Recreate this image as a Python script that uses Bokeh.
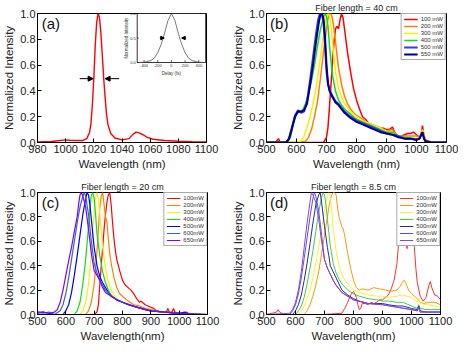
import math
from bokeh.plotting import figure
from bokeh.layouts import row, column
from bokeh.models import (Range1d, FixedTicker, Legend, LegendItem, Label, Arrow,
                          NormalHead, PrintfTickFormatter)
from bokeh.embed import file_html
from bokeh.resources import INLINE
from bokeh.core.properties import value

FONT = "Liberation Sans"

# ---------------- data ----------------
y_ticks = [0.0, 0.2, 0.4, 0.6, 0.8, 1.0]
xticks_a = [980, 1000, 1020, 1040, 1060, 1080, 1100]
xticks_bcd = [500, 600, 700, 800, 900, 1000, 1100]

# (a) single spectrum
a_wl = [980, 990, 1000, 1003, 1008, 1012, 1015, 1017, 1018, 1019, 1020, 1021, 1022, 1023, 1024,
        1025, 1026, 1027, 1028, 1029, 1030, 1032, 1035, 1040, 1045, 1048, 1050, 1052, 1055,
        1058, 1062, 1070, 1080, 1090, 1100]
a_int = [0.005, 0.008, 0.02, 0.018, 0.015, 0.015, 0.03, 0.08, 0.15, 0.3, 0.5, 0.75, 0.93, 1.0,
         0.97, 0.85, 0.68, 0.5, 0.35, 0.22, 0.14, 0.07, 0.035, 0.02, 0.03, 0.065, 0.08, 0.075,
         0.06, 0.04, 0.025, 0.015, 0.01, 0.006, 0.004]
a_fwhm = [1019.5, 1028.0]          # arrow tips
a_fwhm_tails = [1010.0, 1038.0]    # arrow tails
a_half = 0.495

# (a) inset autocorrelation
inset_delay = [-500, -400, -300, -250, -200, -150, -100, -50, 0, 50, 100, 150, 200, 250, 300, 400, 500]
inset_int = [0.0, 0.005, 0.04, 0.09, 0.2, 0.37, 0.6, 0.86, 1.0, 0.86, 0.6, 0.37, 0.2, 0.09, 0.04, 0.005, 0.0]
inset_xticks = [-400, -200, 0, 200, 400]
inset_yticks = [0.0, 0.5, 1.0]
inset_arrow_tips = [-105, 150]
inset_arrow_tails = [-170, 215]

# (b) fiber length 40 cm
b_labels = ["100 mW", "200 mW", "300 mW", "400 mW", "500 mW", "550 mW"]
b_colors = ["#ff0000", "#ff8000", "#ffee00", "#11dd11", "#3535ff", "#000088"]
b_widths = [1.5, 1.5, 1.5, 1.5, 2.0, 2.0]
b_wl_100 = [500, 530, 540, 545, 560, 600, 650, 690, 700, 705, 710, 715, 720, 725, 730, 735, 740, 745,
            750, 755, 760, 770, 780, 790, 800, 810, 820, 830, 840, 850, 860, 870, 880, 890, 900, 910,
            920, 925, 930, 940, 950, 960, 970, 980, 990, 1000, 1005, 1010, 1015, 1020, 1025, 1030,
            1040, 1060, 1100]
b_100 = [0.0, 0.0, 0.03, 0.0, 0.0, 0.0, 0.0, 0.0, 0.04, 0.12, 0.28, 0.45, 0.62, 0.78, 0.88, 0.9,
         0.88, 0.95, 1.0, 0.97, 0.88, 0.7, 0.55, 0.42, 0.33, 0.26, 0.2, 0.18, 0.15, 0.14, 0.13, 0.12,
         0.11, 0.11, 0.1, 0.1, 0.12, 0.09, 0.07, 0.05, 0.05, 0.06, 0.07, 0.07, 0.08, 0.06, 0.05, 0.04,
         0.06, 0.13, 0.05, 0.02, 0.01, 0.0, 0.0]
b_wl_200 = [500, 600, 630, 640, 650, 660, 670, 680, 690, 700, 705, 710, 715, 720, 725, 730, 740, 750,
            760, 770, 780, 790, 800, 820, 840, 860, 880, 900, 920, 930, 940, 960, 980, 1000, 1010,
            1020, 1030, 1050, 1100]
b_200 = [0.0, 0.0, 0.01, 0.04, 0.1, 0.2, 0.32, 0.5, 0.7, 0.88, 0.96, 1.0, 1.0, 0.96, 0.88, 0.78,
         0.58, 0.45, 0.36, 0.3, 0.26, 0.23, 0.21, 0.18, 0.15, 0.13, 0.11, 0.09, 0.1, 0.07, 0.05, 0.05,
         0.05, 0.05, 0.04, 0.1, 0.02, 0.0, 0.0]
b_wl_300 = [500, 600, 615, 625, 635, 645, 655, 665, 675, 685, 695, 700, 705, 710, 715, 720, 730, 740,
            750, 760, 780, 800, 820, 850, 880, 900, 920, 940, 960, 1000, 1010, 1020, 1030, 1050, 1100]
b_300 = [0.0, 0.0, 0.01, 0.05, 0.12, 0.2, 0.3, 0.42, 0.58, 0.75, 0.92, 0.98, 1.0, 0.98, 0.9, 0.78,
         0.55, 0.42, 0.35, 0.3, 0.24, 0.2, 0.17, 0.14, 0.11, 0.09, 0.08, 0.05, 0.04, 0.03, 0.03, 0.1,
         0.01, 0.0, 0.0]
b_wl_400 = [500, 570, 580, 590, 600, 610, 620, 630, 640, 650, 660, 670, 680, 690, 695, 700, 705, 710,
            720, 730, 740, 750, 760, 780, 800, 820, 850, 880, 900, 920, 940, 960, 1000, 1010, 1020,
            1030, 1050, 1100]
b_400 = [0.0, 0.0, 0.04, 0.15, 0.22, 0.24, 0.25, 0.3, 0.38, 0.48, 0.6, 0.75, 0.88, 0.97, 1.0, 0.98,
         0.9, 0.75, 0.52, 0.4, 0.33, 0.29, 0.26, 0.22, 0.18, 0.16, 0.13, 0.1, 0.08, 0.08, 0.05, 0.04,
         0.03, 0.03, 0.08, 0.01, 0.0, 0.0]
b_wl_500 = [500, 565, 575, 585, 595, 605, 615, 625, 635, 645, 655, 665, 672, 678, 685, 690, 695, 700,
            705, 710, 720, 730, 740, 760, 780, 800, 820, 850, 880, 900, 920, 940, 960, 980, 1000,
            1010, 1020, 1025, 1030, 1050, 1100]
b_500 = [0.0, 0.0, 0.03, 0.12, 0.21, 0.25, 0.23, 0.24, 0.32, 0.48, 0.66, 0.84, 0.95, 1.0, 0.99,
         0.93, 0.75, 0.55, 0.45, 0.41, 0.36, 0.32, 0.3, 0.24, 0.2, 0.17, 0.15, 0.12, 0.09, 0.07, 0.06,
         0.05, 0.03, 0.03, 0.02, 0.03, 0.08, 0.03, 0.01, 0.0, 0.0]
b_wl_550 = [500, 565, 575, 585, 595, 605, 615, 625, 635, 645, 655, 665, 675, 680, 685, 690, 695, 700,
            705, 710, 720, 730, 740, 760, 780, 800, 820, 850, 880, 900, 920, 940, 960, 980, 1000,
            1010, 1020, 1025, 1030, 1050, 1100]
b_550 = [0.0, 0.0, 0.03, 0.11, 0.2, 0.24, 0.24, 0.25, 0.3, 0.44, 0.6, 0.78, 0.94, 0.99, 1.0, 0.96,
         0.82, 0.6, 0.46, 0.4, 0.35, 0.31, 0.29, 0.23, 0.19, 0.16, 0.14, 0.11, 0.08, 0.07, 0.06, 0.04,
         0.03, 0.03, 0.02, 0.03, 0.08, 0.03, 0.01, 0.0, 0.0]

# (c) fiber length 20 cm
c_labels = ["100mW", "200mW", "300mW", "400mW", "500mW", "600mW", "650mW"]
c_colors = ["#ff0000", "#ff8000", "#ffee00", "#11dd11", "#0000ff", "#3366cc", "#8000ff"]
c_wl_100 = [500, 700, 710, 715, 720, 725, 730, 735, 740, 745, 750, 755, 760, 765, 770, 775, 780, 790,
            800, 810, 820, 830, 840, 850, 860, 865, 870, 880, 890, 900, 910, 920, 940, 955, 960, 965,
            975, 980, 985, 1000, 1020, 1025, 1040, 1100]
c_100 = [0.0, 0.0, 0.02, 0.08, 0.25, 0.4, 0.55, 0.7, 0.82, 0.92, 0.98, 1.0, 0.9, 0.75, 0.62, 0.52,
         0.45, 0.36, 0.28, 0.24, 0.22, 0.2, 0.17, 0.13, 0.1, 0.11, 0.1, 0.08, 0.07, 0.06, 0.05, 0.03,
         0.02, 0.02, 0.05, 0.02, 0.02, 0.05, 0.02, 0.01, 0.01, 0.02, 0.0, 0.0]
c_wl_200 = [500, 670, 680, 690, 700, 705, 710, 715, 720, 725, 730, 735, 740, 745, 750, 755, 760, 770,
            780, 790, 800, 820, 840, 860, 880, 900, 920, 950, 1000, 1100]
c_200 = [0.0, 0.0, 0.03, 0.1, 0.25, 0.38, 0.52, 0.7, 0.88, 0.97, 1.0, 0.9, 0.8, 0.76, 0.62, 0.5,
         0.42, 0.3, 0.22, 0.17, 0.15, 0.11, 0.08, 0.07, 0.05, 0.04, 0.03, 0.02, 0.01, 0.0]
c_wl_300 = [500, 650, 660, 670, 680, 690, 695, 700, 705, 710, 715, 720, 725, 730, 740, 750, 760, 770,
            780, 800, 820, 850, 880, 900, 950, 1000, 1100]
c_300 = [0.0, 0.0, 0.03, 0.1, 0.25, 0.5, 0.68, 0.85, 0.96, 1.0, 0.95, 0.82, 0.68, 0.55, 0.38, 0.27,
         0.2, 0.16, 0.13, 0.1, 0.08, 0.06, 0.04, 0.03, 0.02, 0.01, 0.0]
c_wl_400 = [500, 630, 640, 650, 660, 670, 680, 685, 690, 695, 700, 705, 710, 720, 730, 740, 750, 760,
            780, 800, 820, 850, 880, 900, 950, 1000, 1100]
c_400 = [0.0, 0.0, 0.03, 0.1, 0.25, 0.45, 0.72, 0.88, 0.98, 1.0, 0.95, 0.82, 0.66, 0.48, 0.35, 0.26,
         0.2, 0.16, 0.12, 0.1, 0.08, 0.06, 0.04, 0.03, 0.02, 0.01, 0.0]
c_wl_500 = [500, 520, 540, 560, 590, 600, 610, 620, 630, 640, 650, 660, 670, 675, 680, 685, 690, 700,
            710, 720, 730, 740, 750, 760, 780, 800, 820, 850, 880, 900, 950, 1000, 1020, 1030, 1100]
c_500 = [0.01, 0.02, 0.01, 0.0, 0.0, 0.03, 0.08, 0.18, 0.32, 0.48, 0.65, 0.82, 0.95, 1.0, 0.98, 0.9,
         0.78, 0.55, 0.4, 0.31, 0.26, 0.22, 0.18, 0.15, 0.12, 0.1, 0.08, 0.06, 0.04, 0.03, 0.02, 0.01,
         0.02, 0.0, 0.0]
c_wl_600 = [500, 520, 540, 560, 580, 590, 600, 610, 620, 630, 640, 650, 660, 665, 670, 680, 690, 700,
            710, 720, 730, 740, 760, 780, 800, 850, 900, 950, 1000, 1100]
c_600 = [0.02, 0.01, 0.02, 0.0, 0.03, 0.08, 0.17, 0.3, 0.45, 0.6, 0.75, 0.88, 0.97, 1.0, 0.97, 0.82,
         0.6, 0.42, 0.34, 0.28, 0.24, 0.2, 0.15, 0.12, 0.1, 0.06, 0.03, 0.02, 0.01, 0.0]
c_wl_650 = [500, 520, 540, 560, 570, 580, 590, 600, 610, 620, 630, 640, 645, 650, 655, 660, 670, 680,
            690, 700, 710, 720, 730, 740, 760, 780, 800, 850, 900, 950, 1000, 1100]
c_650 = [0.02, 0.02, 0.01, 0.02, 0.04, 0.1, 0.2, 0.32, 0.44, 0.55, 0.68, 0.8, 0.9, 0.98, 1.0, 0.97,
         0.88, 0.7, 0.5, 0.36, 0.32, 0.28, 0.22, 0.18, 0.15, 0.12, 0.1, 0.06, 0.03, 0.02, 0.01, 0.0]

# (d) fiber length 8.5 cm
d_labels = ["100mW", "200mW", "300mW", "400mW", "500mW", "600mW", "650mW"]
d_colors = ["#ff3030", "#ff9900", "#ffee33", "#44cc44", "#2a2a9a", "#5050ff", "#9040e0"]
d_wl_100 = [500, 520, 535, 540, 545, 560, 600, 700, 760, 770, 780, 790, 800, 810, 815, 820, 825, 830,
            840, 850, 860, 870, 880, 890, 900, 910, 920, 930, 940, 950, 960, 965, 970, 980, 985, 990,
            995, 1000, 1005, 1010, 1015, 1020, 1030, 1040, 1050, 1060, 1065, 1070, 1080, 1090, 1100]
d_100 = [0.0, 0.01, 0.02, 0.04, 0.02, 0.0, 0.0, 0.0, 0.01, 0.05, 0.1, 0.16, 0.19, 0.14, 0.08, 0.04,
         0.05, 0.09, 0.09, 0.08, 0.1, 0.09, 0.1, 0.12, 0.12, 0.14, 0.16, 0.21, 0.28, 0.42, 0.72, 0.75,
         0.72, 0.6, 0.54, 0.7, 1.0, 0.95, 0.8, 0.55, 0.38, 0.26, 0.15, 0.11, 0.14, 0.24, 0.27, 0.22,
         0.16, 0.15, 0.12]
d_wl_200 = [500, 630, 640, 650, 660, 670, 680, 690, 700, 710, 715, 720, 725, 730, 735, 740, 745, 750,
            760, 765, 770, 780, 790, 800, 810, 820, 830, 850, 870, 890, 910, 930, 950, 960, 970, 975,
            980, 990, 1000, 1010, 1020, 1030, 1040, 1060, 1080, 1100]
d_200 = [0.0, 0.0, 0.03, 0.08, 0.15, 0.24, 0.35, 0.5, 0.65, 0.8, 0.88, 0.94, 0.98, 1.0, 1.0, 0.98,
         0.88, 0.8, 0.72, 0.7, 0.64, 0.5, 0.38, 0.28, 0.22, 0.2, 0.21, 0.2, 0.22, 0.21, 0.2, 0.19, 0.2,
         0.23, 0.27, 0.28, 0.26, 0.2, 0.17, 0.15, 0.13, 0.1, 0.09, 0.1, 0.1, 0.08]
d_wl_300 = [500, 610, 620, 630, 640, 650, 660, 670, 680, 690, 700, 705, 710, 715, 720, 725, 730, 740,
            750, 760, 770, 780, 800, 820, 850, 880, 900, 920, 950, 970, 1000, 1020, 1025, 1030, 1050,
            1080, 1100]
d_300 = [0.0, 0.0, 0.03, 0.07, 0.13, 0.2, 0.3, 0.42, 0.55, 0.7, 0.85, 0.93, 0.98, 1.0, 0.97, 0.85,
         0.7, 0.52, 0.4, 0.33, 0.28, 0.25, 0.2, 0.18, 0.16, 0.15, 0.15, 0.14, 0.15, 0.16, 0.14, 0.1,
         0.13, 0.09, 0.08, 0.07, 0.06]
d_wl_400 = [500, 600, 610, 620, 630, 640, 650, 660, 670, 680, 690, 695, 700, 705, 710, 720, 730, 740,
            750, 760, 780, 800, 820, 850, 880, 900, 920, 950, 970, 1000, 1020, 1025, 1030, 1050, 1100]
d_400 = [0.0, 0.0, 0.03, 0.07, 0.14, 0.25, 0.38, 0.52, 0.68, 0.84, 0.96, 1.0, 0.98, 0.9, 0.78, 0.56,
         0.42, 0.34, 0.29, 0.25, 0.2, 0.17, 0.15, 0.13, 0.12, 0.11, 0.11, 0.1, 0.1, 0.07, 0.05, 0.08,
         0.05, 0.04, 0.04]
d_wl_500 = [500, 590, 600, 610, 620, 630, 640, 650, 660, 670, 680, 685, 690, 700, 710, 715, 720, 730,
            740, 760, 780, 800, 820, 850, 880, 900, 920, 950, 970, 1000, 1020, 1025, 1030, 1050, 1100]
d_500 = [0.0, 0.0, 0.03, 0.08, 0.16, 0.28, 0.42, 0.58, 0.75, 0.9, 0.98, 1.0, 0.92, 0.72, 0.55, 0.48,
         0.4, 0.35, 0.3, 0.2, 0.16, 0.13, 0.11, 0.09, 0.09, 0.09, 0.08, 0.07, 0.07, 0.05, 0.04, 0.07,
         0.03, 0.02, 0.02]
d_wl_600 = [500, 580, 590, 600, 610, 620, 630, 640, 650, 660, 665, 670, 680, 690, 700, 710, 720, 730,
            740, 760, 780, 800, 850, 900, 950, 1000, 1020, 1025, 1030, 1100]
d_600 = [0.0, 0.0, 0.03, 0.08, 0.17, 0.3, 0.46, 0.63, 0.8, 0.95, 1.0, 0.97, 0.85, 0.65, 0.45, 0.38,
         0.33, 0.28, 0.24, 0.18, 0.15, 0.12, 0.09, 0.08, 0.06, 0.04, 0.03, 0.06, 0.02, 0.02]
d_wl_650 = [500, 580, 590, 600, 610, 620, 630, 640, 650, 655, 660, 670, 680, 690, 700, 710, 720, 730,
            740, 760, 780, 800, 850, 900, 950, 1000, 1020, 1025, 1030, 1100]
d_650 = [0.0, 0.01, 0.04, 0.1, 0.2, 0.35, 0.55, 0.75, 0.92, 1.0, 0.98, 0.92, 0.78, 0.6, 0.45, 0.38,
         0.33, 0.28, 0.24, 0.18, 0.15, 0.12, 0.09, 0.08, 0.06, 0.04, 0.03, 0.06, 0.02, 0.02]


# ---------------- helpers ----------------
def make_fig(width, height, xr, xticks, bl, br, bt, bb, xlabel, ylabel, title=""):
    p = figure(width=width, height=height, x_range=Range1d(*xr), y_range=Range1d(0, 1.0),
               output_backend="svg", toolbar_location=None,
               min_border_left=bl, min_border_right=br, min_border_top=bt, min_border_bottom=bb)
    p.xgrid.visible = False
    p.ygrid.visible = False
    p.outline_line_color = "black"
    p.outline_line_alpha = 1.0
    p.outline_line_width = 1
    p.background_fill_color = "white"
    p.border_fill_color = "white"
    p.xaxis.ticker = FixedTicker(ticks=xticks)
    p.yaxis.ticker = FixedTicker(ticks=y_ticks)
    p.yaxis.formatter = PrintfTickFormatter(format="%.1f")
    for ax in (p.xaxis[0], p.yaxis[0]):
        ax.axis_line_color = "black"
        ax.major_tick_in = 4
        ax.major_tick_out = 0
        ax.minor_tick_line_color = None
        ax.major_label_text_font = FONT
        ax.major_label_text_font_size = "11px"
        ax.major_label_text_color = "#222222"
        ax.major_label_standoff = 2
        ax.axis_label_text_font = FONT
        ax.axis_label_text_font_size = "11.5px"
        ax.axis_label_text_font_style = "normal"
        ax.axis_label_text_color = "#222222"
        ax.axis_label_standoff = 2
    p.xaxis.axis_label = xlabel
    p.yaxis.axis_label = ylabel
    if title:
        p.title.text = title
        p.title.align = "center"
        p.title.text_font = FONT
        p.title.text_font_size = "9px"
        p.title.text_font_style = "normal"
        p.title.text_color = "#222222"
        p.title.standoff = 1
        p.title.offset = 0
    return p


def add_panel_label(p, text, x):
    p.add_layout(Label(x=x, y=0.985, text=text, text_align="left", text_baseline="top",
                       text_font=FONT, text_font_size="15px", text_color="#111111"))


def add_curves(p, series, labels, colors, widths, legend_loc):
    items = []
    for (wl, vals), lab, col, w in zip(series, labels, colors, widths):
        r = p.line(wl, vals, line_color=col, line_width=w)
        items.append(LegendItem(label=lab, renderers=[r]))
    leg = Legend(items=items, location=legend_loc, margin=0, padding=2, spacing=1,
                 glyph_width=14, glyph_height=6, label_height=6, label_standoff=3,
                 label_text_font=FONT, label_text_font_size="6px", label_text_color="#333333",
                 border_line_color="#555555", border_line_width=1, background_fill_alpha=1.0)
    p.add_layout(leg)


# layout sizes
W = 229
H1, H2 = 172, 172
BT1, BB1 = 12, 30
BT2, BB2 = 20, 30

# ---------------- (a) ----------------
pa = make_fig(W, H1, (980, 1100), xticks_a, 35, 23, BT1, BB1, "Wavelength (nm)", "Normalized Intensity")
pa.line(a_wl, a_int, line_color="#ff0000", line_width=1.4)
for tail, tip in zip(a_fwhm_tails, a_fwhm):
    pa.add_layout(Arrow(x_start=tail, y_start=a_half, x_end=tip, y_end=a_half, line_width=1.0,
                        line_color="black",
                        end=NormalHead(size=5, fill_color="black", line_color="black")))
add_panel_label(pa, "(a)", 983)

# inset via extra ranges mapped onto the upper-right part of the frame
fx0, fx1 = 0.59, 0.995
fy0, fy1 = 0.62, 1.0
ix0, ix1 = -500.0, 500.0
iy0, iy1 = 0.0, 1.0
sx = (ix1 - ix0) / (fx1 - fx0)
sy = (iy1 - iy0) / (fy1 - fy0)
pa.extra_x_ranges = {"ix": Range1d(ix0 - fx0 * sx, ix0 - fx0 * sx + sx)}
pa.extra_y_ranges = {"iy": Range1d(iy0 - fy0 * sy, iy0 - fy0 * sy + sy)}
pa.quad(left=[ix0], right=[ix1], bottom=[iy0], top=[iy1], fill_color="white",
        line_color="black", line_width=0.8, x_range_name="ix", y_range_name="iy")
pa.line(inset_delay, inset_int, line_color="#555555", line_width=0.8,
        x_range_name="ix", y_range_name="iy")
pa.segment(x0=inset_xticks, y0=[iy0] * len(inset_xticks), x1=inset_xticks,
           y1=[iy0 + 0.05] * len(inset_xticks), line_color="black", line_width=0.6,
           x_range_name="ix", y_range_name="iy")
pa.segment(x0=[ix0] * len(inset_yticks), y0=inset_yticks, x1=[ix0 + 25] * len(inset_yticks),
           y1=inset_yticks, line_color="black", line_width=0.6,
           x_range_name="ix", y_range_name="iy")
pa.text(x=inset_xticks, y=[iy0 - 0.03] * len(inset_xticks), text=[str(t) for t in inset_xticks],
        text_align="center", text_baseline="top", text_font=value(FONT), text_font_size="4px",
        text_color="#333333", x_range_name="ix", y_range_name="iy")
pa.text(x=[ix0 - 20] * len(inset_yticks), y=inset_yticks, text=["%.1f" % t for t in inset_yticks],
        text_align="right", text_baseline="middle", text_font=value(FONT), text_font_size="4px",
        text_color="#333333", x_range_name="ix", y_range_name="iy")
pa.text(x=[0], y=[iy0 - 0.17], text=["Delay (fs)"], text_align="center", text_baseline="top",
        text_font=value(FONT), text_font_size="4.5px", text_color="#333333",
        x_range_name="ix", y_range_name="iy")
pa.text(x=[ix0 - 150], y=[0.5], text=["Normalized Intensity"], angle=math.pi / 2,
        text_align="center", text_baseline="middle", text_font=value(FONT),
        text_font_size="4.5px", text_color="#333333", x_range_name="ix", y_range_name="iy")
for tail, tip in zip(inset_arrow_tails, inset_arrow_tips):
    pa.add_layout(Arrow(x_start=tail, y_start=0.5, x_end=tip, y_end=0.5, line_width=0.8,
                        line_color="black", x_range_name="ix", y_range_name="iy",
                        end=NormalHead(size=3.5, fill_color="black", line_color="black")))

# ---------------- (b) ----------------
pb = make_fig(W, H1, (500, 1100), xticks_bcd, 36, 12, BT1, BB1, "Wavelength (nm)",
              "Normalized Intensity", "Fiber length = 40 cm")
add_curves(pb, [(b_wl_100, b_100), (b_wl_200, b_200), (b_wl_300, b_300), (b_wl_400, b_400),
                (b_wl_500, b_500), (b_wl_550, b_550)], b_labels, b_colors, b_widths, "top_right")
add_panel_label(pb, "(b)", 512)

# ---------------- (c) ----------------
pc = make_fig(W, H2, (500, 1100), xticks_bcd, 35, 22, BT2, BB2, "Wavelength(nm)",
              "Normalized Intensity", "Fiber length = 20 cm")
add_curves(pc, [(c_wl_100, c_100), (c_wl_200, c_200), (c_wl_300, c_300), (c_wl_400, c_400),
                (c_wl_500, c_500), (c_wl_600, c_600), (c_wl_650, c_650)],
           c_labels, c_colors, [1.2] * 7, "top_right")
add_panel_label(pc, "(c)", 515)

# ---------------- (d) ----------------
pd_ = make_fig(W, H2, (500, 1100), xticks_bcd, 37, 18, BT2, BB2, "Wavelength(nm)",
               "Normalized Intensity", "Fiber length = 8.5 cm")
add_curves(pd_, [(d_wl_100, d_100), (d_wl_200, d_200), (d_wl_300, d_300), (d_wl_400, d_400),
                 (d_wl_500, d_500), (d_wl_600, d_600), (d_wl_650, d_650)],
           d_labels, d_colors, [1.0] * 7, "top_right")
add_panel_label(pd_, "(d)", 512)

layout = column(row(pa, pb), row(pc, pd_))
open("out.html", "w").write(file_html(layout, INLINE))
